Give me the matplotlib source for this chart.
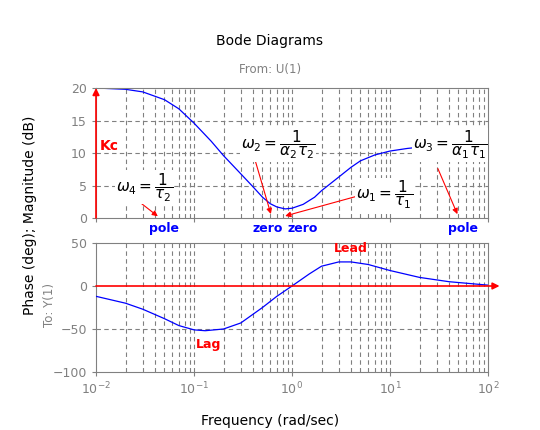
import matplotlib
matplotlib.use("Agg")
import matplotlib.pyplot as plt
import numpy as np

freq_mag = [0.01, 0.02, 0.03, 0.05, 0.07, 0.1, 0.15, 0.2, 0.3, 0.4, 0.5, 0.6, 0.7, 0.85, 1.0,
            1.3, 1.7, 2.0, 3.0, 4.0, 5.0, 7.0, 10.0, 15.0, 20.0, 30.0, 50.0, 100.0]
mag_db = [20.0, 19.8, 19.4, 18.2, 16.8, 14.6, 11.8, 9.6, 6.8, 4.8, 3.2, 2.2, 1.7, 1.4, 1.5,
          2.1, 3.2, 4.2, 6.3, 7.8, 8.8, 9.7, 10.3, 10.7, 10.9, 11.0, 11.0, 11.0]
freq_ph = [0.01, 0.02, 0.03, 0.05, 0.07, 0.1, 0.13, 0.2, 0.3, 0.5, 0.7, 1.0, 1.5, 2.0, 3.0,
           4.0, 6.0, 10.0, 20.0, 40.0, 100.0]
phase_deg = [-12, -20, -27, -38, -46, -51, -52, -50, -43, -25, -12, 0, 14, 23, 28,
             28, 25, 18, 10, 5, 1]

gray = "#808080"
fig = plt.figure(figsize=(5.4, 4.3), dpi=100)
ax1 = fig.add_axes([96 / 540, 1 - 218 / 430, 392 / 540, 130 / 430])
ax2 = fig.add_axes([96 / 540, 1 - 372 / 430, 392 / 540, 129 / 430])

minor = [m * 10.0 ** e for e in range(-2, 2) for m in range(1, 10)][1:]
for ax in (ax1, ax2):
    ax.set_xscale("log")
    ax.set_xlim(0.01, 100)
    for f in minor:
        ax.axvline(f, color=gray, ls=(0, (4, 3)), lw=0.8, zorder=0)
    ax.tick_params(colors=gray, labelsize=9, length=3, which="both")
    ax.tick_params(which="minor", length=0)
    for s in ax.spines.values():
        s.set_color(gray)

ax1.set_ylim(0, 20)
ax1.set_yticks([0, 5, 10, 15, 20])
ax1.set_xticklabels([])
for y in [5, 10, 15]:
    ax1.axhline(y, color=gray, ls=(0, (4, 3)), lw=0.8, zorder=0)
ax1.plot(freq_mag, mag_db, color="blue", lw=0.9)

ax2.set_ylim(-100, 50)
ax2.set_yticks([-100, -50, 0, 50])
ax2.axhline(-50, color=gray, ls=(0, (4, 3)), lw=0.8, zorder=0)
ax2.plot(freq_ph, phase_deg, color="blue", lw=0.9, zorder=3)
ax2.annotate("", xy=(140, 0), xytext=(0.01, 0), annotation_clip=False,
             arrowprops=dict(arrowstyle="-|>", color="red", lw=1.2, shrinkA=0))

red = "red"
ax1.annotate("", xy=(0.01, 20), xytext=(0.01, 0),
             arrowprops=dict(arrowstyle="-|>", color=red, lw=1.2, shrinkA=0, shrinkB=0))
ax1.text(0.0108, 10.5, "Kc", color=red, fontsize=10, fontweight="bold")

arrow = dict(arrowstyle="-|>", color=red, lw=0.8, mutation_scale=8)
ax1.annotate("", xy=(0.045, 0), xytext=(0.025, 3.0), arrowprops=arrow)
ax1.annotate("", xy=(0.62, 0.2), xytext=(0.4, 10.0), arrowprops=arrow)
ax1.annotate("", xy=(0.8, 0.2), xytext=(5.0, 3.5), arrowprops=arrow)
ax1.annotate("", xy=(50, 0.2), xytext=(30, 8.0), arrowprops=arrow)

box = dict(facecolor="white", edgecolor="none", pad=0.5)
ax1.text(0.016, 4.0, r"$\omega_4 = \dfrac{1}{\tau_2}$", fontsize=11, bbox=box)
ax1.text(0.3, 10.5, r"$\omega_2 = \dfrac{1}{\alpha_2\tau_2}$", fontsize=11, bbox=box)
ax1.text(4.5, 2.8, r"$\omega_1 = \dfrac{1}{\tau_1}$", fontsize=11, bbox=box)
ax1.text(17, 10.5, r"$\omega_3 = \dfrac{1}{\alpha_1\tau_1}$", fontsize=11, bbox=box)

blue_kw = dict(color="blue", fontsize=9, fontweight="bold", ha="center", va="top")
ax1.text(0.05, -0.6, "pole", **blue_kw)
ax1.text(0.57, -0.6, "zero", **blue_kw)
ax1.text(1.3, -0.6, "zero", **blue_kw)
ax1.text(55, -0.6, "pole", **blue_kw)

ax2.text(0.14, -60, "Lag", color=red, fontsize=9, fontweight="bold", ha="center", va="top")
ax2.text(4.0, 36, "Lead", color=red, fontsize=9, fontweight="bold", ha="center", va="bottom")

fig.text(0.5, 1 - 45 / 430, "Bode Diagrams", ha="center", fontsize=10)
fig.text(0.5, 1 - 73 / 430, "From: U(1)", ha="center", fontsize=8.5, color=gray)
fig.text(0.5, 1 - 425 / 430, "Frequency (rad/sec)", ha="center", fontsize=10)
fig.text(30 / 540, 0.5, "Phase (deg); Magnitude (dB)", rotation=90, va="center", ha="center", fontsize=10)
fig.text(50 / 540, 1 - 305 / 430, "To: Y(1)", rotation=90, va="center", ha="center", fontsize=8.5, color=gray)

fig.savefig("out.png", dpi=100)
